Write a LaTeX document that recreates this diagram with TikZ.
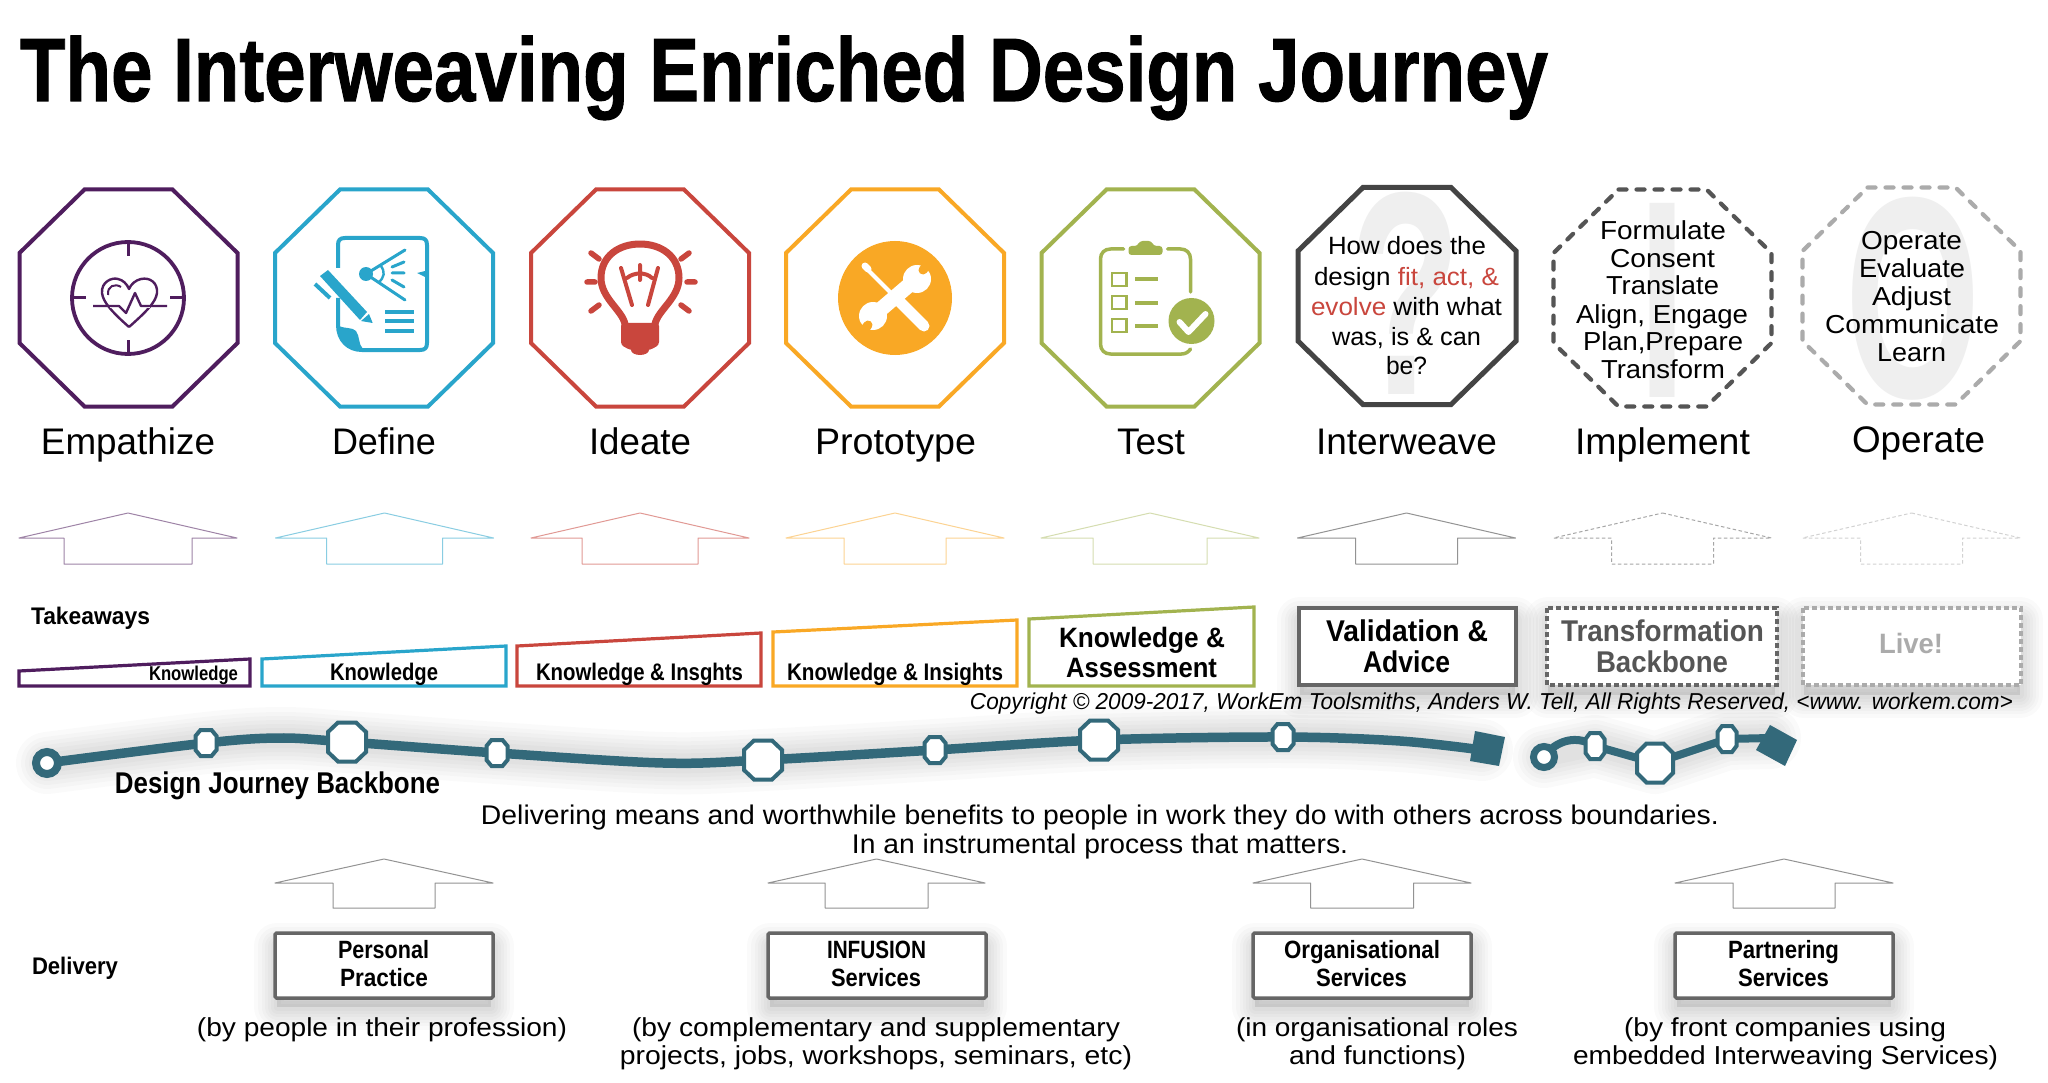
\documentclass[tikz,border=0pt]{standalone}
\usepackage{fontspec}
\usepackage{graphicx}
\setmainfont{Liberation Sans}
\newfontfamily\tfont[BoldFeatures={FakeBold=1.2}]{Liberation Sans}
\usetikzlibrary{shapes.geometric}
\definecolor{cpurple}{HTML}{4F1D5E}
\definecolor{cblue}{HTML}{29A5CB}
\definecolor{cred}{HTML}{C9463D}
\definecolor{corange}{HTML}{F9A825}
\definecolor{cgreen}{HTML}{A2B34F}
\definecolor{cdark}{HTML}{444444}
\definecolor{cdash}{HTML}{555555}
\definecolor{cbox}{HTML}{666666}
\definecolor{clight}{HTML}{ABABAB}
\definecolor{cteal}{HTML}{33697A}
\definecolor{cghost}{HTML}{EFEFEF}
\tikzset{
  txt/.style={anchor=base,inner sep=0pt,outer sep=0pt,text=black},
  octline/.style={line width=4pt,line join=miter,fill=none},
  dashline/.style={line width=4.2pt,line cap=round,dash pattern=on 8pt off 10pt},
  houseline/.style={line width=1pt,line join=round},
  housedash/.style={line width=1pt,line join=round,dash pattern=on 3.5pt off 2.5pt},
  backbone/.style={draw=cteal,line width=9.5pt,line cap=round,line join=round},
  bbnode/.style={draw=cteal,fill=white,line width=4pt,line join=miter},
  takebox/.style={line width=3.2pt,line join=miter,fill=white},
  delbox/.style={draw=cbox,line width=3.5pt,fill=white,rounded corners=1.5pt},
  iconline/.style={line width=3.5pt,line cap=round,line join=round},
}
\newcommand{\fs}[1]{\fontsize{#1pt}{#1pt}\selectfont}
% [options]{name}{x1}{x2}{baseline}{font}{text}
\newcommand{\tx}[7][]{\node[txt,#1] (#2) at ({(#3+#4)/2},#5) {\resizebox{\dimexpr #4pt-#3pt\relax}{\height}{#6#7}};}
% octagon: [style]{cx}{cy}{half w}{half h}{corner x}{corner y}
\newcommand{\oct}[7][]{\path[#1,shift={(#2,#3)}] (-#6,-#5)--(#6,-#5)--(#4,-#7)--(#4,#7)--(#6,#5)--(-#6,#5)--(-#4,#7)--(-#4,-#7)--cycle;}
% house arrow: [style]{cx}{half head}{half stem}{apex y}{shoulder y}{bottom y}
\newcommand{\house}[7][]{\path[#1,shift={(#2,0)}] (0,#5)--(#3,#6)--(#4,#6)--(#4,#7)--(-#4,#7)--(-#4,#6)--(-#3,#6)--cycle;}
% soft shadow under a path
\newcommand{\softshade}[1]{\foreach \w in {46,38,31,25,19,13,7}{\path[draw=black,fill=black,draw opacity=.018,fill opacity=.012,line width=\w pt,line join=round,shift={(0,11)}] #1;}}
\newcommand{\softline}[2]{\foreach \w in {62,52,44,36,28,20}{\path[draw=black,draw opacity=.018,line width=\w pt,line cap=round,line join=round,shift={(0,#2)}] #1;}}
\begin{document}
\begin{tikzpicture}[x=1pt,y=-1pt]
\useasboundingbox (0,0) rectangle (2048,1083);
\fill[white] (0,0) rectangle (2048,1083);

% ---------- title
\tx{title}{20}{1548}{101}{\fs{90}\tfont\bfseries}{The Interweaving Enriched Design Journey}

% ---------- ghost glyphs
\node[txt,text=cghost] (ghostq) at (1406,394) {\resizebox{112pt}{202pt}{\bfseries ?}};
\node[txt,text=cghost] (ghosti) at (1662.5,397) {\resizebox{48pt}{194pt}{\bfseries I}};
\node[txt,text=cghost] (ghosto) at (1913,397) {\resizebox{135pt}{200pt}{\bfseries O}};

% ---------- octagons
\oct[octline,draw=cpurple]{128.5}{298}{109}{108.5}{44}{45}
\oct[octline,draw=cblue]{384}{298}{109}{108.5}{44}{45}
\oct[octline,draw=cred]{640}{298}{109}{108.5}{44}{45}
\oct[octline,draw=corange]{895}{298}{109}{108.5}{44}{45}
\oct[octline,draw=cgreen]{1150.5}{298}{109}{108.5}{44}{45}
\oct[octline,line width=5pt,draw=cdark]{1407}{296}{109}{108.5}{44}{45}
\oct[dashline,draw=cdash]{1662.5}{298}{109}{108.5}{44}{45}
\oct[dashline,draw=clight]{1911.5}{296}{109}{108.5}{44}{45}

% ---------- empathize icon
\draw[cpurple,line width=3.8pt] (128,298) ellipse (56pt and 56pt);
\draw[cpurple,line width=3pt]
  (128,242)--(128,256) (128,340)--(128,354) (72,298)--(86,298) (170,298)--(184,298);
\draw[cpurple,line width=2.4pt,line join=round]
  (129,327) .. controls (112,312) and (103,302) .. (102,293)
  .. controls (101,282) and (112,277) .. (118,279)
  .. controls (123,280) and (127,284) .. (129,289)
  .. controls (131,284) and (136,280) .. (141,279)
  .. controls (150,277) and (158,283) .. (157,293)
  .. controls (156,302) and (146,312) .. (129,327);
\draw[cpurple,line width=2pt] (108,295) .. controls (107,286) and (115,283) .. (121,287);
\draw[white,line width=5pt] (110,306)--(150,306);
\draw[cpurple,line width=2.4pt,line join=round] (93,306)--(119,306)--(126,313)--(135,293)--(141,306)--(167,306);

% ---------- define icon
\draw[cblue,line width=4pt,line join=round]
  (338,268)--(338,245) .. controls (338,240) and (340,238) .. (345,238)
  --(420,238) .. controls (425,238) and (427,240) .. (427,245)
  --(427,343) .. controls (427,348) and (425,350) .. (420,350)--(362,350)
  .. controls (348,350) and (338,340) .. (338,325)--(338,298);
\fill[cblue] (339,326) .. controls (346,329) and (352,327) .. (356,331) .. controls (360,336) and (358,344) .. (363,349) .. controls (350,350) and (339,340) .. (339,326)--cycle;
\fill[cblue] (417,273)--(425,271)--(425,277)--cycle;
\fill[cblue] (320,276)--(328,270)--(367,312)--(360,320)--cycle;
\fill[cblue] (369,314)--(372.7,323)--(361,321)--cycle;
\draw[cblue,line width=4pt] (315,284)--(330,298);
\fill[cblue] (366,274) circle (7pt);
\draw[cblue,line width=3pt,line cap=round]
  (366,274)--(405,250) (366,274)--(405,300)
  (392,267)--(404,262) (392,273)--(404,273) (392,280)--(404,287);
\draw[cblue,line width=2.4pt] (381,266) .. controls (385,272) and (385,277) .. (378,283);
\draw[cblue,line width=4.5pt] (385,312)--(414,312) (385,321)--(414,321) (385,331)--(414,331);

% ---------- ideate icon
\draw[cred,line width=7pt,line join=round]
  (625,324) .. controls (622,310) and (601,298) .. (601,278)
  .. controls (601,256) and (619,244) .. (640,244)
  .. controls (661,244) and (679,256) .. (679,278)
  .. controls (679,298) and (658,310) .. (655,324);
\fill[cred,rounded corners=3pt] (621,323)--(659,323)--(659,345)--(650,350)--(630,350)--(621,345)--cycle;
\fill[cred] (640,350) ellipse (9pt and 5pt);
\draw[cred,iconline,line width=4pt]
  (621,268)--(632,305) (658,268)--(648,305) (640,265)--(640,280)
  (627,278) .. controls (634,272) and (646,272) .. (652,278);
\draw[cred,line width=5.5pt,line cap=round]
  (587,282)--(595,282) (687,282)--(695,282)
  (591,253)--(599,259) (689,253)--(681,259)
  (591,311)--(599,305) (689,311)--(681,305);

% ---------- prototype icon
\fill[corange] (895,298) circle (57pt);
\draw[white,line width=7pt,line cap=round] (865,266)--(868,269);
\draw[white,line width=4pt] (866,268)--(893,295);
\draw[white,line width=11pt,line cap=round] (897,299)--(924,326);
\draw[white,line width=15pt] (880,310)--(908,286);
\fill[white] (873,316) circle (14pt) (917,279) circle (14pt);
\draw[corange,line width=9pt,line cap=round] (868,325)--(861,334);
\draw[corange,line width=9pt,line cap=round] (923,270)--(930,262);

% ---------- test icon
\begin{scope}[shift={(1.5,0)}]
\draw[cgreen,iconline]
  (1122,249)--(1109,249) .. controls (1103,249) and (1099,253) .. (1099,259)
  --(1099,344) .. controls (1099,350) and (1103,354) .. (1109,354)
  --(1180,354) .. controls (1184,354) and (1187,352) .. (1189,349);
\draw[cgreen,iconline] (1166,249)--(1179,249) .. controls (1185,249) and (1189,253) .. (1189,259)--(1189,292);
\fill[cgreen,rounded corners=3pt] (1127,255)--(1127,246)--(1136,246)--(1138,241)--(1150,241)--(1152,246)--(1161,246)--(1161,255)--cycle;
\draw[cgreen,line width=2.4pt]
  (1110.5,273) rectangle (1125,286) (1110.5,296) rectangle (1125,309) (1110.5,319) rectangle (1125,332);
\draw[cgreen,line width=4pt] (1133.5,279)--(1156,279) (1133.5,303)--(1156,303) (1133.5,326)--(1156,326);
\fill[cgreen] (1190,321) circle (23pt);
\draw[white,line width=6pt,line cap=round,line join=round] (1178,322)--(1187,332)--(1204,314);
\end{scope}

% ---------- octagon text
\tx{iw1}{1328}{1486}{254.5}{\fs{25}}{How does the}
\tx{iw2}{1314}{1499}{285.5}{\fs{25}}{design \textcolor{cred}{fit, act, \&}}
\tx{iw3}{1311}{1502}{315.5}{\fs{25}}{\textcolor{cred}{evolve} with what}
\tx{iw4}{1332}{1481}{345.5}{\fs{25}}{was, is \& can}
\tx{iw5}{1386}{1427}{374.5}{\fs{25}}{be?}
\tx{im1}{1600}{1726}{239.5}{\fs{26}}{Formulate}
\tx{im2}{1610}{1715}{267.5}{\fs{26}}{Consent}
\tx{im3}{1606}{1719}{294.5}{\fs{26}}{Translate}
\tx{im4}{1576}{1748}{323.5}{\fs{26}}{Align, Engage}
\tx{im5}{1583}{1743}{350.5}{\fs{26}}{Plan,Prepare}
\tx{im6}{1601}{1725}{378.5}{\fs{26}}{Transform}
\tx{op1}{1861}{1962}{249.5}{\fs{26}}{Operate}
\tx{op2}{1859}{1965}{277.5}{\fs{26}}{Evaluate}
\tx{op3}{1872}{1951}{305.5}{\fs{26}}{Adjust}
\tx{op4}{1825}{1999}{333.5}{\fs{26}}{Communicate}
\tx{op5}{1877}{1946}{361.5}{\fs{26}}{Learn}

% ---------- stage labels
\tx{lemp}{41}{215}{454.5}{\fs{37}}{Empathize}
\tx{ldef}{332}{436}{454.5}{\fs{37}}{Define}
\tx{lide}{589}{691}{454.5}{\fs{37}}{Ideate}
\tx{lpro}{815}{976}{454.5}{\fs{37}}{Prototype}
\tx{ltes}{1117}{1185}{454.5}{\fs{37}}{Test}
\tx{lint}{1316}{1497}{454.5}{\fs{37}}{Interweave}
\tx{limp}{1575}{1750}{454.5}{\fs{37}}{Implement}
\tx{lope}{1852}{1985}{452.5}{\fs{37}}{Operate}

% ---------- upper arrows
\house[houseline,draw=cpurple!55]{128}{109}{64}{513}{538}{564}
\house[houseline,draw=cblue!55]{384.5}{109}{58}{513}{538}{564}
\house[houseline,draw=cred!55]{640}{109}{58}{513}{538}{564}
\house[houseline,draw=corange!50]{895}{109}{51}{513}{538}{564}
\house[houseline,draw=cgreen!45]{1150}{109}{57}{513}{538}{564}
\house[houseline,draw=gray!85]{1406.5}{109}{51}{513}{538}{564}
\house[housedash,draw=gray!70]{1662.5}{109}{51}{513}{538}{564}
\house[housedash,draw=gray!35]{1911.5}{109}{51}{513}{538}{564}

% ---------- takeaways
\tx{take}{31}{150}{624}{\fs{24}\bfseries}{Takeaways}
\draw[takebox,draw=cpurple] (19,671)--(250,659)--(250,686)--(19,686)--cycle;
\draw[takebox,draw=cblue] (262,659)--(506,646)--(506,686)--(262,686)--cycle;
\draw[takebox,draw=cred] (517,646)--(761,633)--(761,686)--(517,686)--cycle;
\draw[takebox,draw=corange] (773,632)--(1017,620)--(1017,686)--(773,686)--cycle;
\draw[takebox,draw=cgreen] (1029,619)--(1254,607)--(1254,686)--(1029,686)--cycle;
\softshade{(1300,609) rectangle (1515,684)}
\softshade{(1548,609) rectangle (1775,684)}
\softshade{(1804,609) rectangle (2020,684)}
\draw[cbox,line width=3.2pt,fill=white] (1299,608) rectangle (1516,685);
\draw[cbox,line width=3.2pt,fill=white,dash pattern=on 5pt off 3pt] (1547,608) rectangle (1777,685);
\draw[clight,line width=3.2pt,fill=white,dash pattern=on 5pt off 3pt] (1803,608) rectangle (2021,685);
\tx{k1}{149}{238}{680}{\fs{20}\bfseries}{Knowledge}
\tx{k2}{330}{438}{680}{\fs{24}\bfseries}{Knowledge}
\tx{k3}{536}{743}{680}{\fs{24}\bfseries}{Knowledge \& Insghts}
\tx{k4}{787}{1003}{680}{\fs{24}\bfseries}{Knowledge \& Insights}
\tx{k5a}{1059}{1225}{647.5}{\fs{28}\bfseries}{Knowledge \&}
\tx{k5b}{1066}{1217}{677.5}{\fs{28}\bfseries}{Assessment}
\tx{v1}{1326}{1488}{641}{\fs{30}\bfseries}{Validation \&}
\tx{v2}{1363}{1450}{672}{\fs{30}\bfseries}{Advice}
\tx[text=cdash]{t1}{1561}{1764}{641}{\fs{30}\bfseries}{Transformation}
\tx[text=cdash]{t2}{1596}{1728}{672}{\fs{30}\bfseries}{Backbone}
\tx[text=clight]{l1}{1879}{1943}{653}{\fs{28}\bfseries}{Live!}
\tx{copy}{970}{2013}{709}{\fs{23}\itshape}{Copyright © 2009-2017, WorkEm Toolsmiths, Anders W. Tell, All Rights Reserved, <www. workem.com>}

% ---------- backbone
\coordinate (b0) at (47,763);
\coordinate (b1) at (206,743);
\coordinate (bx) at (280,738);
\coordinate (b2) at (347,742);
\coordinate (b3) at (497,753);
\coordinate (by) at (663,763);
\coordinate (b4) at (763,760);
\coordinate (b5) at (935,750);
\coordinate (b6) at (1099,740);
\coordinate (b7) at (1283,737);
\coordinate (bz) at (1400,741);
\coordinate (b8) at (1482,750);
\softline{plot[smooth,tension=.55] coordinates {(b0) (b1) (bx) (b2) (b3) (by) (b4) (b5) (b6) (b7) (bz) (b8)}}{16}
\draw[backbone] plot[smooth,tension=.55] coordinates {(b0) (b1) (bx) (b2) (b3) (by) (b4) (b5) (b6) (b7) (bz) (b8)};
\fill[cteal] (1475,731)--(1505,737)--(1499,766)--(1470,761)--cycle;
\draw[cteal,fill=white,line width=8pt] (b0) circle (11pt);
\oct[bbnode]{206}{743}{10.5}{13}{5.5}{7}
\oct[bbnode]{347}{742}{19}{19.5}{9}{10}
\oct[bbnode]{497}{753}{10.5}{13}{5.5}{7}
\oct[bbnode]{763}{760}{19}{19.5}{9}{10}
\oct[bbnode]{935}{750}{10.5}{13}{5.5}{7}
\oct[bbnode]{1099}{740}{19}{19.5}{9}{10}
\oct[bbnode]{1283}{737}{10.5}{13}{5.5}{7}

\coordinate (c0) at (1544,757);
\coordinate (c1) at (1595,746);
\coordinate (c2) at (1655,763);
\coordinate (c3) at (1727,739);
\coordinate (c4) at (1770,738);
\softline{(c0)--(c1)--(c2)--(c3)--(c4)}{16}
\draw[backbone,line width=8pt] (c0) .. controls (1552,745) and (1572,732) .. (c1) -- (c2) -- (c3) -- (c4);
\fill[cteal] (1770,725)--(1797,740)--(1785,766)--(1756,750)--cycle;
\draw[cteal,fill=white,line width=7pt] (c0) circle (10.5pt);
\oct[bbnode]{1595}{746}{9.5}{13}{5}{7}
\oct[bbnode]{1655}{763}{18}{19.5}{8.5}{10}
\oct[bbnode]{1727}{739}{9.5}{13}{5}{7}

\tx{dj}{115}{440}{793}{\fs{30}\bfseries}{Design Journey Backbone}
\tx{m1}{481}{1719}{824.5}{\fs{27}}{Delivering means and worthwhile benefits to people in work they do with others across boundaries.}
\tx{m2}{852}{1348}{853}{\fs{27}}{In an instrumental process that matters.}

% ---------- delivery
\house[houseline,draw=gray!85]{384}{109}{51}{859}{883}{908}
\house[houseline,draw=gray!85]{876.5}{108.5}{51.5}{859}{883}{908}
\house[houseline,draw=gray!85]{1362}{109}{51.5}{859}{883}{908}
\house[houseline,draw=gray!85]{1784}{109}{51}{859}{883}{908}
\softshade{(277,935) rectangle (491,996)}
\softshade{(770,935) rectangle (984,996)}
\softshade{(1255,935) rectangle (1469,996)}
\softshade{(1677,935) rectangle (1891,996)}
\node[delbox,minimum width=218pt,minimum height=65pt,inner sep=0pt] (dp) at (384,965.5) {};
\node[delbox,minimum width=218pt,minimum height=65pt,inner sep=0pt] (di) at (877,965.5) {};
\node[delbox,minimum width=218pt,minimum height=65pt,inner sep=0pt] (dg) at (1362,965.5) {};
\node[delbox,minimum width=218pt,minimum height=65pt,inner sep=0pt] (dt) at (1784,965.5) {};
\tx{del}{32}{118}{974}{\fs{24}\bfseries}{Delivery}
\tx{d1a}{338}{429}{958}{\fs{25}\bfseries}{Personal}
\tx{d1b}{340}{428}{986}{\fs{25}\bfseries}{Practice}
\tx{d2a}{827}{926}{958}{\fs{25}\bfseries}{INFUSION}
\tx{d2b}{831}{921}{986}{\fs{25}\bfseries}{Services}
\tx{d3a}{1284}{1440}{958}{\fs{25}\bfseries}{Organisational}
\tx{d3b}{1316}{1407}{986}{\fs{25}\bfseries}{Services}
\tx{d4a}{1728}{1839}{958}{\fs{25}\bfseries}{Partnering}
\tx{d4b}{1738}{1829}{986}{\fs{25}\bfseries}{Services}
\tx{c1a}{197}{567}{1036}{\fs{26}}{(by people in their profession)}
\tx{c2a}{632}{1120}{1036}{\fs{26}}{(by complementary and supplementary}
\tx{c2b}{620}{1132}{1064}{\fs{26}}{projects, jobs, workshops, seminars, etc)}
\tx{c3a}{1236}{1518}{1036}{\fs{26}}{(in organisational roles}
\tx{c3b}{1289}{1466}{1064}{\fs{26}}{and functions)}
\tx{c4a}{1624}{1946}{1036}{\fs{26}}{(by front companies using}
\tx{c4b}{1573}{1998}{1064}{\fs{26}}{embedded Interweaving Services)}
\end{tikzpicture}
\end{document}
